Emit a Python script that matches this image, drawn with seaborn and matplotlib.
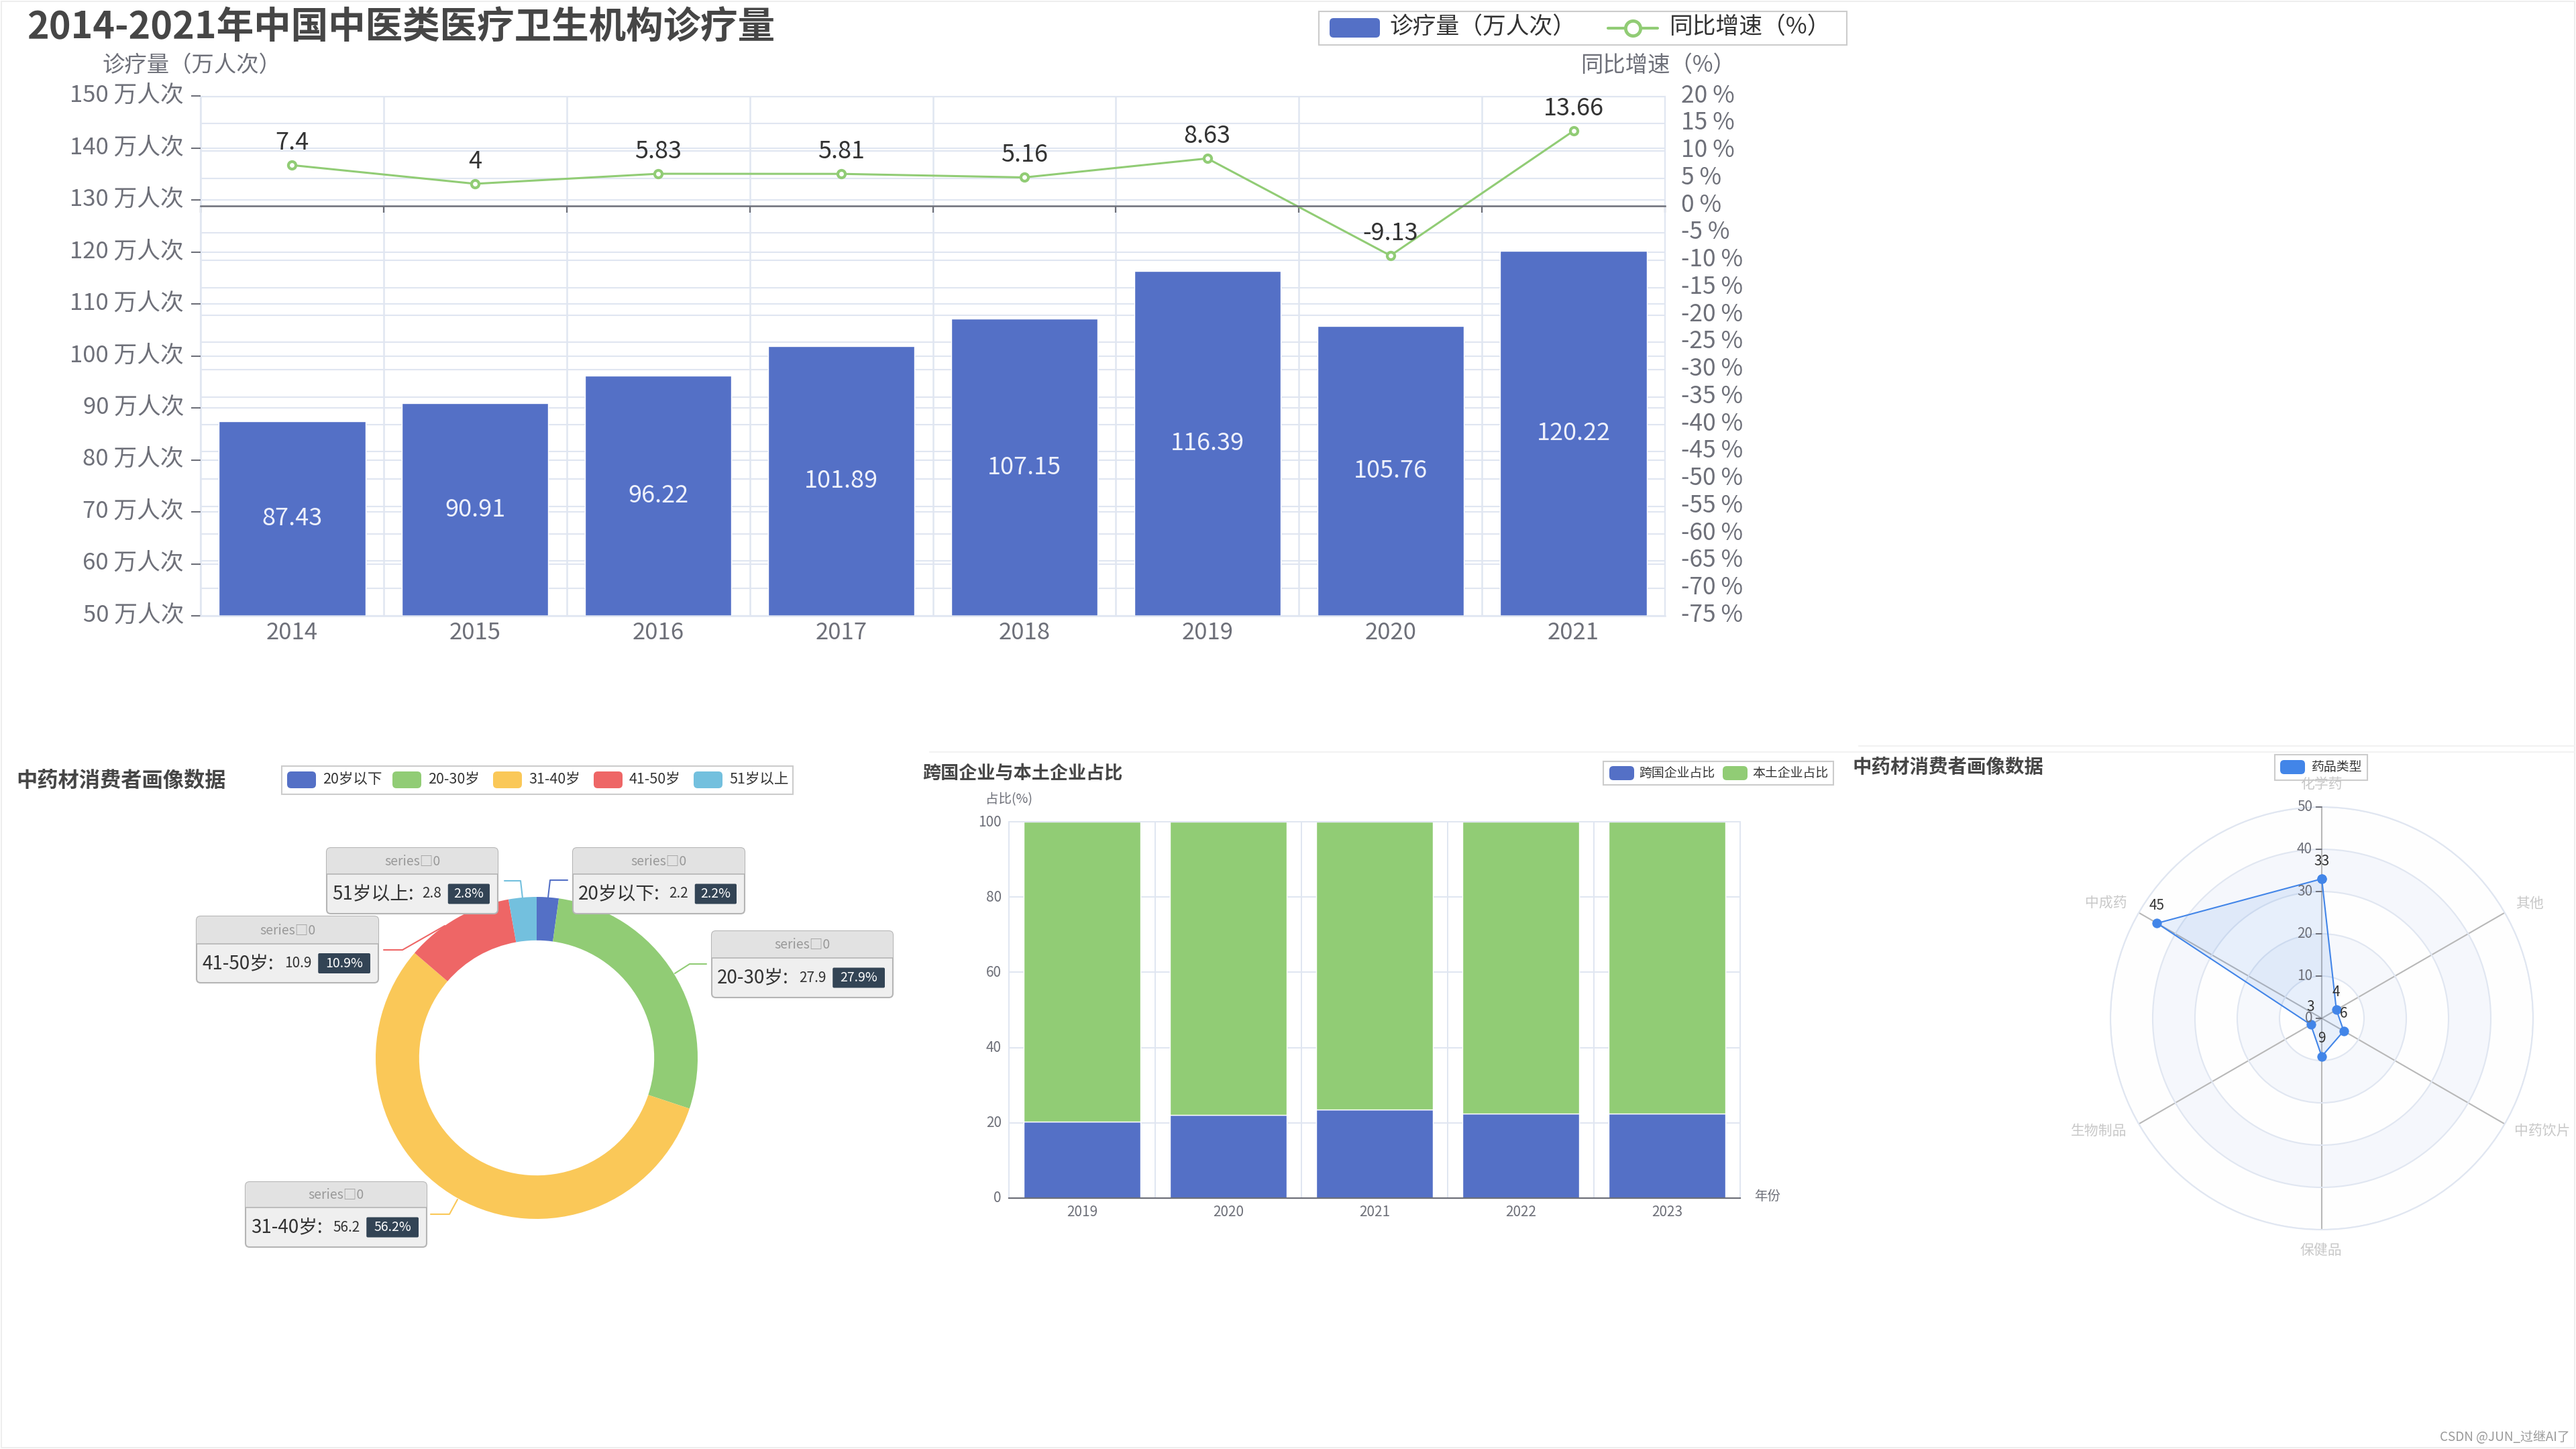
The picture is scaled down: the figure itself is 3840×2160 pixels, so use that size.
import numpy as np
import pandas as pd
import matplotlib
matplotlib.use('Agg')
import matplotlib.pyplot as plt
import seaborn as sns
from matplotlib.patches import FancyBboxPatch, Rectangle
from matplotlib.transforms import ScaledTranslation

# top chart
years = ['2014', '2015', '2016', '2017', '2018', '2019', '2020', '2021']
visits = [87.43, 90.91, 96.22, 101.89, 107.15, 116.39, 105.76, 120.22]
growth = [7.4, 4, 5.83, 5.81, 5.16, 8.63, -9.13, 13.66]
visit_ticks = [50, 60, 70, 80, 90, 100, 110, 120, 130, 140, 150]
growth_ticks = [20, 15, 10, 5, 0, -5, -10, -15, -20, -25, -30, -35, -40, -45, -50, -55, -60, -65, -70, -75]

# donut
age_names = ['20岁以下', '20-30岁', '31-40岁', '41-50岁', '51岁以上']
age_values = [2.2, 27.9, 56.2, 10.9, 2.8]

# stacked bars
share_years = ['2019', '2020', '2021', '2022', '2023']
foreign_share = [20.4, 22.1, 23.6, 22.5, 22.4]
local_share = [79.6, 77.9, 76.4, 77.5, 77.6]
share_ticks = [0, 20, 40, 60, 80, 100]

# radar
drug_names = ['化学药', '中成药', '生物制品', '保健品', '中药饮片', '其他']
drug_values = [33, 45, 3, 9, 6, 4]
radar_ticks = [0, 10, 20, 30, 40, 50]

BLUE, GREEN, YELLOW, RED, CYAN = '#5470c6', '#91cc75', '#fac858', '#ee6666', '#73c0de'
RADAR_BLUE = '#4285e8'
GRID = '#e0e6f1'
AXIS = '#6e7079'
W, H = 3840, 2160

sns.set_theme(style='white')
plt.rcParams['font.family'] = ['Noto Sans CJK SC', 'DejaVu Sans']
plt.rcParams['axes.unicode_minus'] = False

fig = plt.figure(figsize=(W / 100, H / 100), dpi=100, facecolor='white')


def px_axes(x0, y0, x1, y1, **kw):
    return fig.add_axes([x0 / W, 1 - y1 / H, (x1 - x0) / W, (y1 - y0) / H], **kw)


def nudge_up(labels, px):
    for lab in labels:
        lab.set_transform(lab.get_transform() + ScaledTranslation(0, px / 100, fig.dpi_scale_trans))


# ---- top chart: percent axis underneath, bars on top of its grid
ax_pct = px_axes(299, 143.5, 2482, 918)
ax_bar = ax_pct.twinx()
df_top = pd.DataFrame({'year': years, 'visits': visits, 'growth': growth})
sns.barplot(data=df_top, x='year', y='visits', color=BLUE, saturation=1, width=0.8, ax=ax_bar)
sns.lineplot(x=np.arange(len(years)), y=growth, color=GREEN, lw=2.2, marker='o', ms=8,
             mfc='white', mec=GREEN, mew=3, ax=ax_pct)
ax_pct.set_xlim(-0.5, len(years) - 0.5)
ax_pct.set_ylim(-75, 20)
ax_bar.set_ylim(50, 150)
ax_pct.set_xlabel('')
ax_bar.set_xlabel('')
ax_bar.set_ylabel('')
ax_pct.set_ylabel('')

ax_bar.xaxis.set_visible(True)
ax_bar.xaxis.set_ticks_position('bottom')
ax_bar.yaxis.tick_left()
ax_bar.set_yticks(visit_ticks)
ax_bar.set_yticklabels([f'{v} 万人次' for v in visit_ticks])
ax_bar.tick_params(axis='y', length=10, width=1.5, color=AXIS, labelcolor=AXIS, labelsize=25, pad=8)
ax_bar.set_xticks(np.arange(len(years)))
ax_bar.set_xticklabels(years)
ax_bar.tick_params(axis='x', which='major', length=0, labelcolor=AXIS, labelsize=25, pad=6)
ax_bar.set_xticks(np.arange(len(years) + 1) - 0.5, minor=True)
ax_bar.tick_params(axis='x', which='minor', length=0)
ax_bar.grid(False)
nudge_up(ax_bar.get_yticklabels(), 5)

ax_pct.yaxis.tick_right()
ax_pct.set_yticks(growth_ticks)
ax_pct.set_yticklabels([f'{v} %' for v in growth_ticks])
ax_pct.tick_params(axis='y', length=0, labelcolor=AXIS, labelsize=25.5, pad=17)
nudge_up(ax_pct.get_yticklabels(), 5)
for v in visit_ticks:
    ax_pct.axhline((v - 50) * 0.95 - 75, color=GRID, lw=1.5, zorder=0)
ax_pct.grid(True, axis='y', color=GRID, lw=1.5)
ax_pct.grid(True, axis='x', which='minor', color=GRID, lw=1.8)
ax_pct.grid(False, axis='x', which='major')
ax_pct.set_axisbelow(True)
ax_pct.xaxis.set_visible(True)
ax_pct.xaxis.set_ticks_position('bottom')
ax_pct.spines['bottom'].set_position(('data', 0))
ax_pct.spines['bottom'].set_color(AXIS)
ax_pct.spines['bottom'].set_linewidth(1.8)
ax_pct.tick_params(axis='x', which='major', length=0, labelbottom=False)
ax_pct.tick_params(axis='x', which='minor', length=7, width=1.6, color=AXIS, direction='out')
for s in ['left', 'top', 'right']:
    ax_pct.spines[s].set_color(GRID)
    ax_pct.spines[s].set_linewidth(1.5)
for s in ['left', 'top', 'right']:
    ax_bar.spines[s].set_visible(False)
ax_bar.spines['bottom'].set_color(GRID)
ax_bar.spines['bottom'].set_linewidth(1.8)

for i, v in enumerate(growth):
    ax_pct.annotate(str(v), (i, v), xytext=(0, 24), textcoords='offset points', ha='center', va='center',
                    fontsize=26, color='#333333')
for i, v in enumerate(visits):
    ax_bar.text(i, (v + 50) / 2, f'{v:.2f}', ha='center', va='center', fontsize=26, color='#eef1fb')

# ---- donut
ax_pie = px_axes(800 - 240, 1577 - 240, 800 + 240, 1577 + 240)
ax_pie.pie(age_values, colors=[BLUE, GREEN, YELLOW, RED, CYAN], startangle=90, counterclock=False, radius=1,
           wedgeprops={'width': 0.27, 'linewidth': 0})
ax_pie.set_xlim(-1, 1)
ax_pie.set_ylim(-1, 1)

# ---- stacked bars
ax_share = px_axes(1504, 1225, 2594, 1786)
df_share = pd.DataFrame({'year': share_years, 'foreign': foreign_share, 'local': local_share})
sns.barplot(data=df_share, x='year', y='foreign', color=BLUE, saturation=1, width=0.8, ax=ax_share)
sns.barplot(data=df_share, x='year', y='local', bottom=df_share['foreign'], color=GREEN, saturation=1, width=0.8,
            ax=ax_share)
ax_share.set_ylim(0, 100)
ax_share.set_xlim(-0.5, len(share_years) - 0.5)
ax_share.set_xlabel('')
ax_share.set_ylabel('')
ax_share.set_yticks(share_ticks)
ax_share.set_xticks(np.arange(len(share_years) + 1) - 0.5, minor=True)
ax_share.grid(True, axis='y', color=GRID, lw=1.4)
ax_share.grid(True, axis='x', which='minor', color=GRID, lw=1.4)
ax_share.grid(False, axis='x', which='major')
ax_share.set_axisbelow(True)
ax_share.tick_params(axis='y', length=0, labelsize=15, labelcolor=AXIS, pad=8)
ax_share.tick_params(axis='x', which='major', length=0, labelsize=15, labelcolor=AXIS, pad=7)
ax_share.tick_params(axis='x', which='minor', length=6, width=1.4, color=AXIS, direction='out')
nudge_up(ax_share.get_yticklabels(), 2)
for s in ['left', 'top', 'right']:
    ax_share.spines[s].set_color(GRID)
    ax_share.spines[s].set_linewidth(1.4)
ax_share.spines['bottom'].set_color(AXIS)
ax_share.spines['bottom'].set_linewidth(1.6)

# ---- radar
ax_radar = px_axes(3461 - 315, 1518 - 315, 3461 + 315, 1518 + 315, projection='polar')
ax_radar.set_theta_zero_location('N')
ax_radar.set_theta_direction(1)
ax_radar.set_ylim(0, 50)
angles = np.arange(len(drug_names)) * 60
theta = np.deg2rad(angles)
ring = np.linspace(0, 2 * np.pi, 361)
for low, high, c in [(10, 20, '#f6f8fc'), (30, 40, '#f5f7fc'), (0, 10, '#fefefe'), (20, 30, '#fefefe'), (40, 50, '#fefefe')]:
    ax_radar.fill_between(ring, low, high, color=c, lw=0, zorder=0)
ax_radar.set_thetagrids(angles, labels=[])
ax_radar.set_rgrids(radar_ticks[1:], labels=[])
ax_radar.grid(True, axis='y', color=GRID, lw=1.5)
ax_radar.grid(True, axis='x', color='#b8b8b8', lw=1.5)
ax_radar.spines['polar'].set_color(GRID)
ax_radar.spines['polar'].set_linewidth(1.5)
ax_radar.set_axisbelow(True)
theta_closed = np.append(theta, theta[0])
values_closed = np.append(drug_values, drug_values[0])
ax_radar.fill(theta_closed, values_closed, color=RADAR_BLUE, alpha=0.12, lw=0, zorder=2)
sns.lineplot(x=theta_closed, y=values_closed, sort=False, estimator=None, color=RADAR_BLUE, lw=1.5, marker='o', ms=9.5,
             mec=RADAR_BLUE, ax=ax_radar, zorder=3)
ax_radar.set_xlabel('')
ax_radar.set_ylabel('')
for v in radar_ticks:
    ax_radar.annotate(str(v), (0, v), xytext=(-10, 0), textcoords='offset points', ha='right', va='center',
                      fontsize=15, color=AXIS, annotation_clip=False)
    ax_radar.annotate('', (0, v), xytext=(-6, 0), textcoords='offset points',
                      arrowprops={'arrowstyle': '-', 'color': AXIS, 'lw': 1.4, 'shrinkA': 0, 'shrinkB': 0})
for t, v in zip(theta, drug_values):
    ax_radar.annotate(str(v), (t, v), xytext=(0, 19), textcoords='offset points', ha='center', va='center',
                      fontsize=15, color='#333333', zorder=5)

# ---- everything in pixel coords goes on one overlay
canvas = fig.add_axes([0, 0, 1, 1], zorder=20)
canvas.set_xlim(0, W)
canvas.set_ylim(H, 0)
canvas.axis('off')
canvas.patch.set_alpha(0)


def rounded(x0, y0, x1, y1, face, edge='none', lw=0, r=4, z=2):
    p = FancyBboxPatch((x0, y0), x1 - x0, y1 - y0, boxstyle=f'round,pad=0,rounding_size={r}', fc=face, ec=edge, lw=lw,
                       zorder=z)
    canvas.add_patch(p)
    return p


def legend_box(x0, y0, x1, y1):
    canvas.add_patch(Rectangle((x0, y0), x1 - x0, y1 - y0, fc='white', ec='#cccccc', lw=1.5, zorder=1))


def legend_item(px0, px1, py0, py1, tx, label, color, size):
    rounded(px0, py0, px1, py1, color, r=6)
    canvas.text(tx, (py0 + py1) / 2, label, ha='left', va='center', fontsize=size, color='#333333')


def txt(x, y, s, size, color='#333333', ha='left', weight='normal'):
    canvas.text(x, y, s, ha=ha, va='center', fontsize=size, color=color, fontweight=weight)


def frame(x, y):
    canvas.plot([x + 30, W - 2], [y, y], color='#f2f2f2', lw=1.5)


# panel frames
canvas.plot([2, 2, W - 2, W - 2, 2], [2, H - 2, H - 2, 2, 2], color='#eeeeee', lw=1.5)
frame(1356, 1121)
frame(2741, 1112)

# titles, axis names
txt(40, 41, '2014-2021年中国中医类医疗卫生机构诊疗量', 40, '#464646', weight='bold')
txt(152, 97, '诊疗量（万人次）', 24, AXIS)
txt(2356, 97, '同比增速（%）', 24, AXIS)
txt(24, 1164, '中药材消费者画像数据', 22.5, '#464646', weight='bold')
txt(1375, 1153, '跨国企业与本土企业占比', 19.5, '#464646', weight='bold')
txt(2761, 1144, '中药材消费者画像数据', 20.5, '#464646', weight='bold')
txt(1504, 1192, '占比(%)', 14, AXIS, ha='center')
txt(2615, 1783, '年份', 14, AXIS)
txt(3637, 2142, 'CSDN @JUN_过继AI了', 13.6, '#9a9a9a')

# top legend
legend_box(1966, 17, 2753, 67)
legend_item(1982, 2057, 27, 56, 2071, '诊疗量（万人次）', BLUE, 25)
canvas.plot([2397, 2471], [42, 42], color=GREEN, lw=3)
canvas.plot([2434], [42], 'o', ms=16, mfc='white', mec=GREEN, mew=3.5)
txt(2489, 41, '同比增速（%）', 25)

# donut legend
legend_box(420, 1142, 1182, 1184)
for px0, c, name in zip([428, 585, 735, 885, 1034], [BLUE, GREEN, YELLOW, RED, CYAN], age_names):
    legend_item(px0, px0 + 43, 1150, 1175, px0 + 53, name, c, 15.5)

# stacked legend
legend_box(2390, 1135, 2733, 1170)
legend_item(2399, 2436, 1142, 1163, 2443, '跨国企业占比', BLUE, 13.6)
legend_item(2568, 2605, 1142, 1163, 2612, '本土企业占比', GREEN, 13.6)

# radar legend
legend_box(3391, 1125, 3529, 1163)
legend_item(3399, 3436, 1133, 1154, 3446, '药品类型', RADAR_BLUE, 13.6)

# radar category names
for (x, y), name in zip([(3460, 1169), (3139, 1347), (3129, 1686), (3460, 1864), (3790, 1686), (3771, 1347)], drug_names):
    txt(x, y, name, 15, '#c8c8c8', ha='center')

# donut labels: box x0, y0, x1, y1, header split, leader line
label_layout = [
    (854, 1264, 1110, 1362, 1303, [(846, 1312), (820, 1312), (817, 1338)], BLUE),
    (1061, 1388, 1331, 1487, 1428, [(1053, 1437), (1028, 1437), (1006, 1451)], GREEN),
    (366, 1762, 636, 1859, 1800, [(642, 1810), (670, 1810), (682, 1788)], YELLOW),
    (293, 1366, 564, 1465, 1407, [(572, 1416), (600, 1416), (663, 1380)], RED),
    (487, 1264, 742, 1362, 1303, [(752, 1313), (776, 1313), (779, 1339)], CYAN),
]
for (x0, y0, x1, y1, split, leader, c), name, v in zip(label_layout, age_names, age_values):
    canvas.plot([p[0] for p in leader], [p[1] for p in leader], color=c, lw=1.5, zorder=1)
    box = rounded(x0, y0, x1, y1, '#efefef', '#b5b5b5', 1.5, r=6, z=3)
    head = Rectangle((x0, y0), x1 - x0, split - y0, fc='#e2e2e2', ec='none', zorder=3.1)
    canvas.add_patch(head)
    head.set_clip_path(box)
    canvas.plot([x0, x1], [split, split], color='#b5b5b5', lw=1.2, zorder=3.2)
    pct = f'{v}%'
    body = (split + y1) / 2
    pill_w = 8 + 15.5 * (len(pct) - 0.5)
    rounded(x1 - 12 - pill_w, body - 15, x1 - 12, body + 15, '#334455', r=2, z=3.3)
    canvas.text(x1 - 12 - pill_w / 2, body, pct, ha='center', va='center', fontsize=14, color='white', zorder=4)
    canvas.text((x0 + x1) / 2, (y0 + split) / 2, 'series□0', ha='center', va='center', fontsize=14, color='#999999',
                zorder=4)
    canvas.text(x0 + 8, body, f'{name}:', ha='left', va='center', fontsize=20, color='#333333', zorder=4)
    canvas.text(x1 - 12 - pill_w - 10, body, str(v), ha='right', va='center', fontsize=15, color='#333333', zorder=4)

fig.savefig('out.png', dpi=100, facecolor='white')
